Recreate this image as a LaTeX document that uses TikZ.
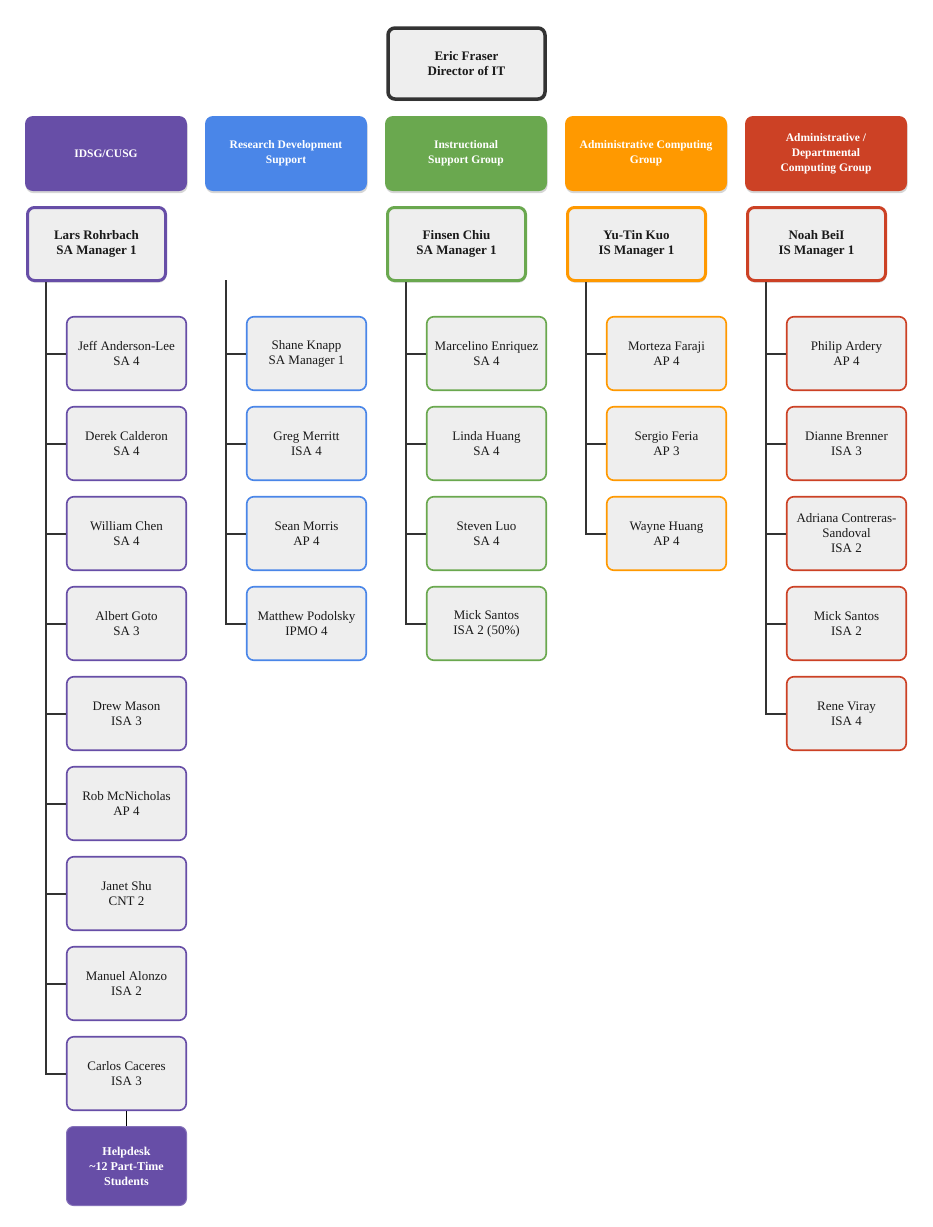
\documentclass[tikz,border=0pt]{standalone}
\usepackage{fontspec}
\setmainfont{Liberation Serif}
\usetikzlibrary{shadows}
\definecolor{cpurple}{HTML}{674EA7}
\definecolor{cblue}{HTML}{4A86E8}
\definecolor{cgreen}{HTML}{6AA84F}
\definecolor{corange}{HTML}{FF9900}
\definecolor{cred}{HTML}{CC4125}
\definecolor{cfill}{HTML}{EEEEEE}
\definecolor{cline}{HTML}{333333}
\definecolor{ctext}{HTML}{1A1A1A}
\tikzset{
  shad/.style={drop shadow={shadow xshift=0.6pt, shadow yshift=-2.2pt, opacity=0.16, fill=black, draw=none}},
  director/.style={draw=cline, line width=3.5pt, fill=cfill, rounded corners=7pt, minimum width=157pt, minimum height=71pt, align=center, text=ctext, font=\bfseries\fontsize{13}{14.5}\selectfont, shad},
  header/.style={fill=#1, rounded corners=8pt, minimum width=162pt, minimum height=75pt, align=center, text=white, font=\bfseries\fontsize{11.5}{14.8}\selectfont, shad},
  manager/.style={draw=#1, line width=3pt, fill=cfill, rounded corners=7pt, minimum width=138pt, minimum height=73pt, align=center, text=ctext, font=\bfseries\fontsize{13}{15}\selectfont, shad},
  staff/.style={draw=#1, line width=1.6pt, fill=cfill, rounded corners=7pt, minimum width=119.5pt, minimum height=73.5pt, align=center, text=ctext, font=\fontsize{13}{15}\selectfont},
  helpbox/.style={fill=cpurple, draw=cpurple!80!white, line width=1pt, rounded corners=7pt, minimum width=120pt, minimum height=79pt, align=center, text=white, font=\bfseries\fontsize{12}{15}\selectfont},
  conn/.style={draw=cline, line width=2pt},
  thinconn/.style={draw=black, line width=1pt}
}
\begin{document}
\begin{tikzpicture}[x=1pt,y=-1pt]
\useasboundingbox[fill=white] (0,0) rectangle (933,1227);

% director
\node[director] (dir) at (466.5,63.5) {Eric Fraser\\Director of IT};

% headers
\node[header=cpurple] (h1) at (106,153.5) {IDSG/CUSG};
\node[header=cblue]   (h2) at (286,153.5) {Research Development\\Support};
\node[header=cgreen]  (h3) at (466,153.5) {Instructional\\Support Group};
\node[header=corange] (h4) at (646,153.5) {Administrative Computing\\Group};
\node[header=cred]    (h5) at (826,153.5) {Administrative /\\Departmental\\Computing Group};

% managers
\node[manager=cpurple] (m1) at (96.5,244) {Lars Rohrbach\\SA Manager 1};
\node[manager=cgreen]  (m3) at (456.5,244) {Finsen Chiu\\SA Manager 1};
\node[manager=corange] (m4) at (636.5,244) {Yu-Tin Kuo\\IS Manager 1};
\node[manager=cred]    (m5) at (816.5,244) {Noah BeiI\\IS Manager 1};

% column 1 staff
\node[staff=cpurple] (s1a) at (126.5,353.5) {Jeff Anderson-Lee\\SA 4};
\node[staff=cpurple] (s1b) at (126.5,443.5) {Derek Calderon\\SA 4};
\node[staff=cpurple] (s1c) at (126.5,533.5) {William Chen\\SA 4};
\node[staff=cpurple] (s1d) at (126.5,623.5) {Albert Goto\\SA 3};
\node[staff=cpurple] (s1e) at (126.5,713.5) {Drew Mason\\ISA 3};
\node[staff=cpurple] (s1f) at (126.5,803.5) {Rob McNicholas\\AP 4};
\node[staff=cpurple] (s1g) at (126.5,893.5) {Janet Shu\\CNT 2};
\node[staff=cpurple] (s1h) at (126.5,983.5) {Manuel Alonzo\\ISA 2};
\node[staff=cpurple] (s1i) at (126.5,1073.5) {Carlos Caceres\\ISA 3};
\node[helpbox] (help) at (126.5,1166) {Helpdesk\\\textasciitilde12 Part-Time\\Students};

% column 2 staff
\node[staff=cblue] (s2a) at (306.5,353.5) {Shane Knapp\\SA Manager 1};
\node[staff=cblue] (s2b) at (306.5,443.5) {Greg Merritt\\ISA 4};
\node[staff=cblue] (s2c) at (306.5,533.5) {Sean Morris\\AP 4};
\node[staff=cblue] (s2d) at (306.5,623.5) {Matthew Podolsky\\IPMO 4};

% column 3 staff
\node[staff=cgreen] (s3a) at (486.5,353.5) {Marcelino Enriquez\\SA 4};
\node[staff=cgreen] (s3b) at (486.5,443.5) {Linda Huang\\SA 4};
\node[staff=cgreen] (s3c) at (486.5,533.5) {Steven Luo\\SA 4};
\node[staff=cgreen] (s3d) at (486.5,623.5) {Mick Santos\\ISA 2 (50\%)};

% column 4 staff
\node[staff=corange] (s4a) at (666.5,353.5) {Morteza Faraji\\AP 4};
\node[staff=corange] (s4b) at (666.5,443.5) {Sergio Feria\\AP 3};
\node[staff=corange] (s4c) at (666.5,533.5) {Wayne Huang\\AP 4};

% column 5 staff
\node[staff=cred] (s5a) at (846.5,353.5) {Philip Ardery\\AP 4};
\node[staff=cred] (s5b) at (846.5,443.5) {Dianne Brenner\\ISA 3};
\node[staff=cred] (s5c) at (846.5,533.5) {Adriana Contreras-\\Sandoval\\ISA 2};
\node[staff=cred] (s5d) at (846.5,623.5) {Mick Santos\\ISA 2};
\node[staff=cred] (s5e) at (846.5,713.5) {Rene Viray\\ISA 4};

% trunk tops
\coordinate (t1) at (46,282);
\coordinate (t2) at (226,280);
\coordinate (t3) at (406,282);
\coordinate (t4) at (586,282);
\coordinate (t5) at (766,282);

% connectors
\draw[conn] (t1) -- (t1 |- s1i.west) -- (s1i.west);
\foreach \n in {s1a,s1b,s1c,s1d,s1e,s1f,s1g,s1h} \draw[conn] (t1 |- \n.west) -- (\n.west);
\draw[conn] (t2) -- (t2 |- s2d.west) -- (s2d.west);
\foreach \n in {s2a,s2b,s2c} \draw[conn] (t2 |- \n.west) -- (\n.west);
\draw[conn] (t3) -- (t3 |- s3d.west) -- (s3d.west);
\foreach \n in {s3a,s3b,s3c} \draw[conn] (t3 |- \n.west) -- (\n.west);
\draw[conn] (t4) -- (t4 |- s4c.west) -- (s4c.west);
\foreach \n in {s4a,s4b} \draw[conn] (t4 |- \n.west) -- (\n.west);
\draw[conn] (t5) -- (t5 |- s5e.west) -- (s5e.west);
\foreach \n in {s5a,s5b,s5c,s5d} \draw[conn] (t5 |- \n.west) -- (\n.west);
\draw[thinconn] (s1i.south) -- (help.north);
\end{tikzpicture}
\end{document}
